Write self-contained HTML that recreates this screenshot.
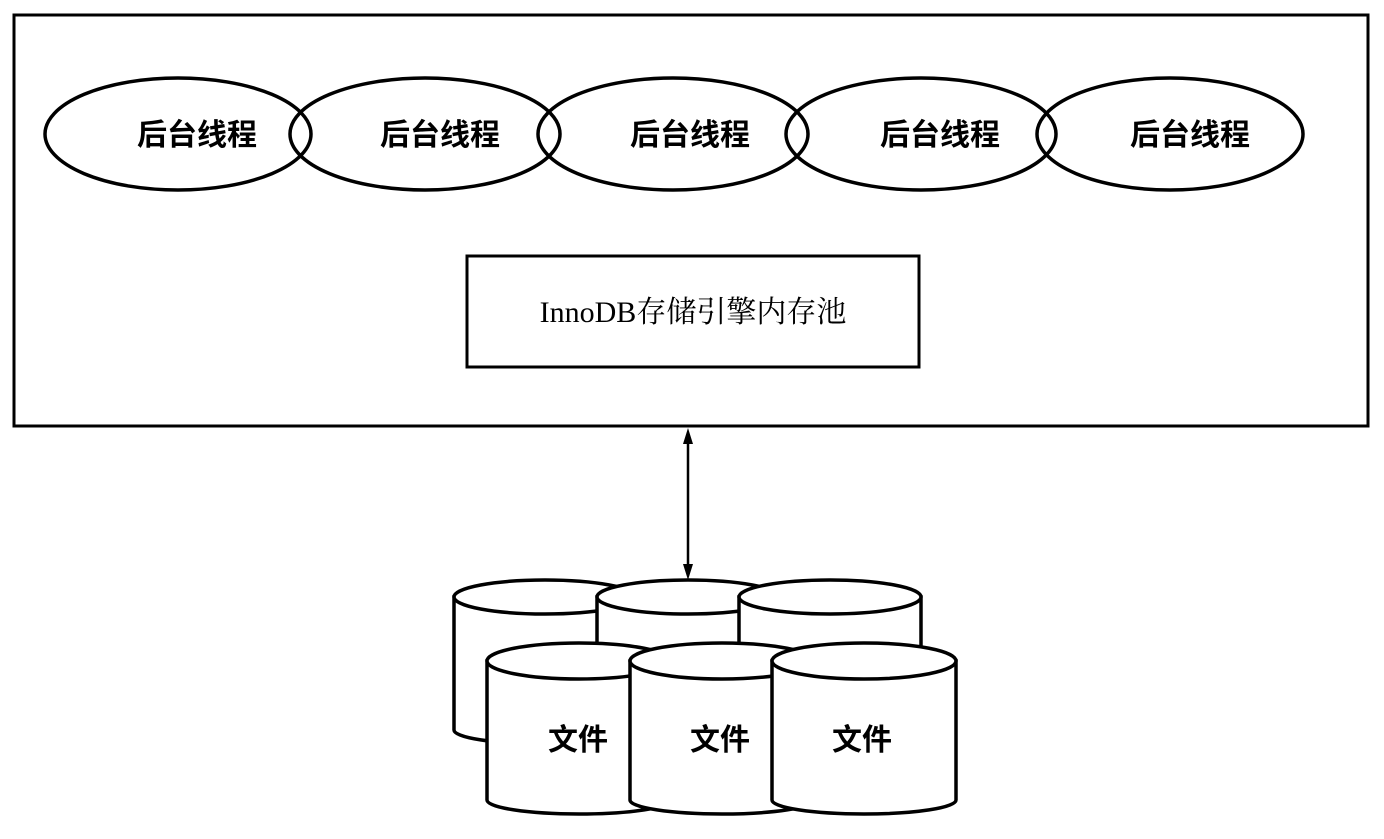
<!DOCTYPE html>
<html><head><meta charset="utf-8"><style>
html,body{margin:0;padding:0;background:#fff;}
svg{display:block;}
.t{font-family:"Liberation Sans","Noto Sans CJK SC",sans-serif;font-weight:bold;font-size:30px;}
</style></head><body>
<svg width="1384" height="839" viewBox="0 0 1384 839" xmlns="http://www.w3.org/2000/svg">
<rect x="0" y="0" width="1384" height="839" fill="#fff"/>
<rect x="14" y="15" width="1354" height="411" fill="#fff" stroke="#000" stroke-width="3"/>
<g fill="#fff" stroke="#000" stroke-width="3.5">
<ellipse cx="178" cy="134" rx="133" ry="56" fill="none"/>
<ellipse cx="425" cy="134" rx="135" ry="56" fill="none"/>
<ellipse cx="673" cy="134" rx="135" ry="56" fill="none"/>
<ellipse cx="921" cy="134" rx="135" ry="56" fill="none"/>
<ellipse cx="1170" cy="134" rx="133" ry="56" fill="none"/>
</g>
<g class="t" text-anchor="middle">
<text x="197" y="145">后台线程</text>
<text x="440" y="145">后台线程</text>
<text x="690" y="145">后台线程</text>
<text x="940" y="145">后台线程</text>
<text x="1190" y="145">后台线程</text>
</g>
<rect x="467" y="256" width="452" height="111" fill="#fff" stroke="#000" stroke-width="3"/>
<text x="693" y="322" text-anchor="middle" font-family="Liberation Serif,'Noto Serif CJK SC',serif" font-size="30">InnoDB存储引擎内存池</text>
<line x1="688" y1="440" x2="688" y2="566" stroke="#000" stroke-width="2.5"/>
<polygon points="688,428 683,444 693,444" fill="#000"/>
<polygon points="688,580 683,564 693,564" fill="#000"/>
<g fill="#fff" stroke="#000" stroke-width="3.5">
<path d="M454,597 L454,730 A91,14 0 0 0 636,730 L636,597 Z"/>
<ellipse cx="545" cy="597" rx="91" ry="17"/>
<path d="M597,597 L597,730 A91,14 0 0 0 779,730 L779,597 Z"/>
<ellipse cx="688" cy="597" rx="91" ry="17"/>
<path d="M739,597 L739,730 A91,14 0 0 0 921,730 L921,597 Z"/>
<ellipse cx="830" cy="597" rx="91" ry="17"/>
<path d="M487,661 L487,800 A92,14 0 0 0 671,800 L671,661 Z"/>
<ellipse cx="579" cy="661" rx="92" ry="18"/>
<path d="M630,661 L630,800 A92,14 0 0 0 814,800 L814,661 Z"/>
<ellipse cx="722" cy="661" rx="92" ry="18"/>
<path d="M772,661 L772,800 A92,14 0 0 0 956,800 L956,661 Z"/>
<ellipse cx="864" cy="661" rx="92" ry="18"/>
</g>
<g class="t" text-anchor="middle" font-weight="normal">
<text x="578" y="750">文件</text>
<text x="720" y="750">文件</text>
<text x="862" y="750">文件</text>
</g>
</svg>
</body></html>
